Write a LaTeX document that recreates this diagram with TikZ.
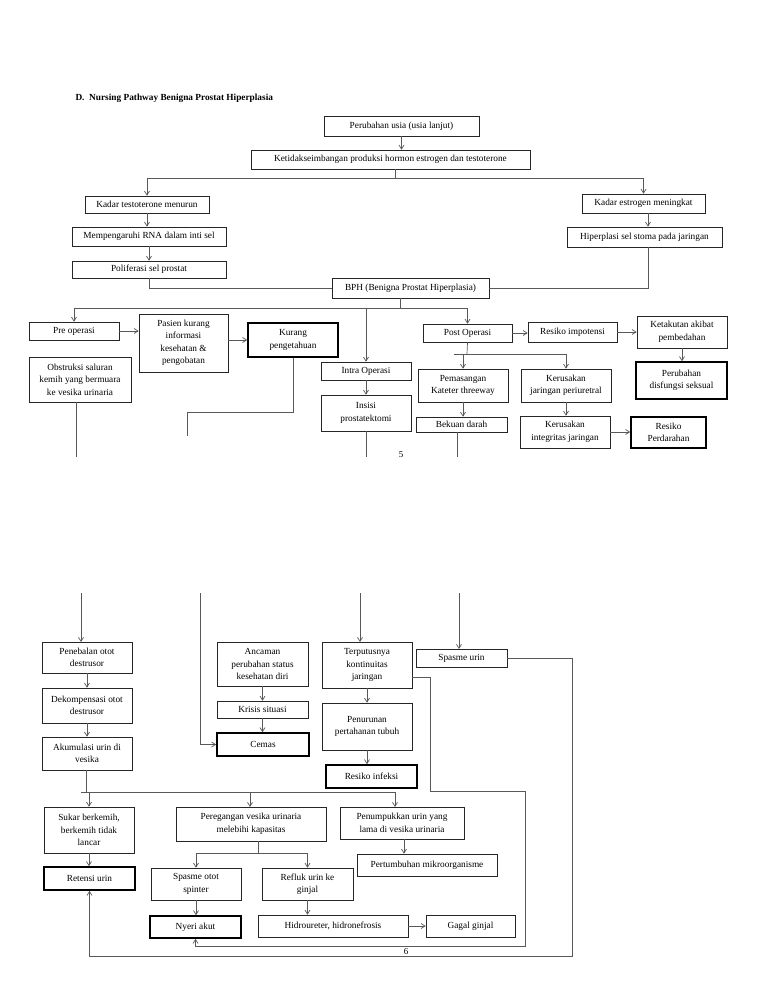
\documentclass[tikz,border=0pt]{standalone}
\usepackage{fontspec}
\setmainfont{Liberation Serif}
\usetikzlibrary{arrows.meta,calc}
\newcommand\bx[7]{\node[#1, minimum width={(#4-#3)*1pt}, minimum height={(#6-#5)*1pt}] (#2) at ({(#3+#4)/2},{(#5+#6)/2}) {#7};}
\begin{document}
\begin{tikzpicture}[x=1pt,y=-1pt,
  box/.style={draw=black!85, line width=0.6pt, inner sep=0pt, align=center, font=\fontsize{9.3}{12.5}\selectfont},
  tbox/.style={box, line width=1.6pt, draw=black},
  ln/.style={draw=black!65, line width=0.7pt},
  arr/.style={ln, -{Straight Barb[length=4pt,width=5pt]}}]
\useasboundingbox (0,0) rectangle (768,1002);
\node[anchor=west, font=\bfseries\fontsize{9.3}{11}\selectfont] (title) at (72,98) {D.\ \ Nursing Pathway Benigna Prostat Hiperplasia};
% top
\bx{box}{perub}{324}{479}{116}{136}{Perubahan usia (usia lanjut)}
\bx{box}{ketid}{251}{530}{150}{169}{Ketidakseimbangan produksi hormon estrogen dan testoterone}
\bx{box}{kt}{85}{209}{196}{213}{Kadar testoterone menurun}
\bx{box}{ke}{582}{705}{194}{213}{Kadar estrogen meningkat}
\bx{box}{mp}{72}{226}{227}{246}{Mempengaruhi RNA dalam inti sel}
\bx{box}{hip}{567}{722}{227}{247}{Hiperplasi sel stoma pada jaringan}
\bx{box}{pol}{72}{226}{261}{278}{Poliferasi sel prostat}
\bx{box}{bph}{332}{489}{278}{298}{BPH (Benigna Prostat Hiperplasia)}
\bx{box}{pre}{29}{119}{322}{340}{Pre operasi}
\bx{box}{pas}{139}{228}{314}{372}{Pasien kurang\\informasi\\kesehatan \&\\pengobatan}
\bx{tbox}{kur}{248}{338}{323}{357}{Kurang\\pengetahuan}
\bx{box}{obs}{29}{131}{357}{402}{Obstruksi saluran\\kemih yang bermuara\\ke vesika urinaria}
\bx{box}{intra}{321}{411}{362}{380}{Intra Operasi}
\bx{box}{ins}{321}{411}{395}{431}{Insisi\\prostatektomi}
\bx{box}{post}{423}{512}{324}{342}{Post Operasi}
\bx{box}{res}{528}{617}{322}{342}{Resiko impotensi}
\bx{box}{ket}{637}{727}{316}{348}{Ketakutan akibat\\pembedahan}
\bx{tbox}{dis}{636}{727}{362}{399}{Perubahan\\disfungsi seksual}
\bx{box}{pem}{418}{508}{369}{402}{Pemasangan\\Kateter threeway}
\bx{box}{ker}{521}{611}{369}{402}{Kerusakan\\jaringan periuretral}
\bx{box}{bek}{416}{507}{417}{432}{Bekuan darah}
\bx{box}{kint}{520}{610}{416}{448}{Kerusakan\\integritas jaringan}
\bx{tbox}{rper}{631}{706}{417}{448}{Resiko\\Perdarahan}
\node[font=\fontsize{9}{10}\selectfont] (p5) at (401,455) {5};
% top connectors
\coordinate (b1) at (395,178);
\draw[arr] (perub) -- (perub.south |- ketid.north);
\draw[ln] (ketid.south -| b1) -- (b1);
\draw[arr] (b1) -| (kt.north);
\draw[arr] (b1) -| (ke.north);
\draw[arr] (kt) -- (kt.south |- mp.north);
\draw[arr] (mp) -- (mp.south |- pol.north);
\draw[arr] (ke.south -| 648,0) -- (hip.north -| 648,0);
\draw[ln] (pol.south) |- (bph.west);
\draw[ln] (hip.south -| 648,0) |- (bph.east);
\coordinate (b2) at (400,308);
\draw[ln] (bph.south -| b2) -- (b2);
\draw[arr] (b2) -| (pre.north);
\draw[arr] (b2) -| (post.north);
\draw[arr] (intra.north |- b2) -- (intra.north);
\draw[arr] (pre.east) -- (pas.west |- pre.east);
\draw[arr] (pas.east |- kur.west) -- (kur.west);
\draw[ln] (kur.south) -- ++(0,55) -| (187,436);
\draw[ln] (obs.south -| 76,0) -- (76,457);
\draw[arr] (intra) -- (intra.south |- ins.north);
\draw[ln] (ins.south) -- (366,457);
\draw[arr] (post.east) -- (res.west |- post.east);
\draw[arr] (res.east) -- (ket.west |- res.east);
\draw[arr] (ket) -- (ket.south |- dis.north);
\coordinate (b3) at (467,354);
\draw[ln] (post.south) -- (b3);
\draw[ln] (454,354) -- (567,354);
\draw[arr] (b3) -| (pem.north);
\draw[arr] (b3) -| (ker.north);
\draw[arr] (pem) -- (pem.south |- bek.north);
\draw[ln] (bek.south -| 457,0) -- (457,457);
\draw[arr] (ker) -- (ker.south |- kint.north);
\draw[arr] (kint.east) -- (rper.west |- kint.east);
% bottom
\bx{box}{peneb}{42}{132}{642}{673}{Penebalan otot\\destrusor}
\bx{box}{dek}{42}{132}{688}{723}{Dekompensasi otot\\destrusor}
\bx{box}{aku}{42}{132}{737}{770}{Akumulasi urin di\\vesika}
\bx{box}{suk}{44}{134}{807}{853}{Sukar berkemih,\\berkemih tidak\\lancar}
\bx{tbox}{ret}{44}{135}{867}{890}{Retensi urin}
\bx{box}{anc}{217}{308}{642}{686}{Ancaman\\perubahan status\\kesehatan diri}
\bx{box}{kri}{217}{308}{701}{718}{Krisis situasi}
\bx{tbox}{cem}{217}{309}{733}{756}{Cemas}
\bx{box}{terp}{322}{412}{642}{688}{Terputusnya\\kontinuitas\\jaringan}
\bx{box}{penur}{322}{412}{703}{750}{Penurunan\\pertahanan tubuh}
\bx{tbox}{rinf}{326}{417}{765}{788}{Resiko infeksi}
\bx{box}{spu}{416}{507}{649}{667}{Spasme urin}
\bx{box}{pereg}{176}{326}{807}{841}{Peregangan vesika urinaria\\melebihi kapasitas}
\bx{box}{penum}{340}{464}{807}{839}{Penumpukkan urin yang\\lama di vesika urinaria}
\bx{box}{pert}{357}{497}{854}{876}{Pertumbuhan mikroorganisme}
\bx{box}{spo}{151}{241}{868}{900}{Spasme otot\\spinter}
\bx{box}{ref}{262}{353}{868}{900}{Refluk urin ke\\ginjal}
\bx{tbox}{nye}{150}{241}{916}{938}{Nyeri akut}
\bx{box}{hid}{258}{408}{915}{937}{Hidroureter, hidronefrosis}
\bx{box}{gag}{426}{515}{915}{937}{Gagal ginjal}
\node[font=\fontsize{9}{10}\selectfont] (p6) at (406,952) {6};
% bottom connectors
\draw[arr] (81,593) -- (81,642);
\draw[arr] (dek.north |- peneb.south) -- (dek.north);
\draw[arr] (aku.north |- dek.south) -- (aku.north);
\draw[arr] (200,593) |- (cem.west);
\draw[arr] (360,593) -- (360,642);
\draw[arr] (459,593) -- (459,649);
\coordinate (b4) at (86,792);
\draw[ln] (aku.south -| b4) -- (b4);
\draw[ln] (81,792) -- (395,792);
\draw[arr] (b4) -| (suk.north);
\draw[arr] (b4) -| (250,807);
\draw[arr] (b4) -| (395,807);
\draw[arr] (suk) -- (suk.south |- ret.north);
\draw[arr] (anc) -- (anc.south |- kri.north);
\draw[arr] (kri) -- (kri.south |- cem.north);
\draw[arr] (terp) -- (terp.south |- penur.north);
\draw[arr] (penur) -- (penur.south |- rinf.north);
\draw[arr] (412,677) -- (430,677) -- (430,791) -- (525,791) -- (525,946) -| (nye.south);
\draw[arr] (spu.east) -- (572,658) -- (572,956) -| (ret.south);
\coordinate (b5) at (258,853);
\draw[ln] (pereg.south -| b5) -- (b5);
\draw[arr] (b5) -| (spo.north);
\draw[arr] (b5) -| (ref.north);
\draw[arr] (penum.south -| 404,0) -- (pert.north -| 404,0);
\draw[arr] (spo) -- (spo.south |- nye.north);
\draw[arr] (ref) -- (ref.south |- hid.north);
\draw[arr] (hid.east) -- (gag.west |- hid.east);
\end{tikzpicture}
\end{document}
